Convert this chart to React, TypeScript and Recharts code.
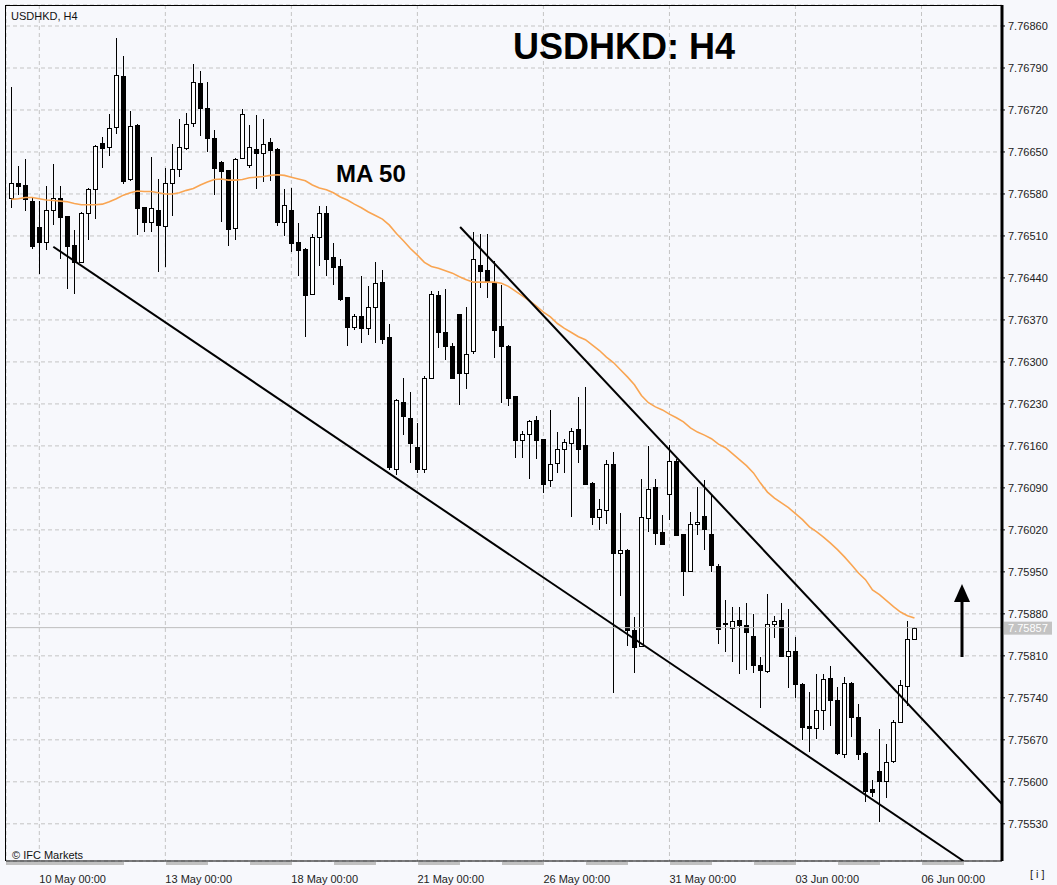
import React from 'react';
import {
    ComposedChart,
    Bar,
    Line,
    XAxis,
    YAxis,
    CartesianGrid,
    ReferenceLine,
} from 'recharts';

// USDHKD H4 candles, oldest first
const opens = [
    7.76573, 7.76598, 7.76595, 7.76568, 7.76525, 7.76500, 7.76554, 7.76574, 7.76543, 7.76495,
    7.76467, 7.76549, 7.76588, 7.76665, 7.76658, 7.76691, 7.76776, 7.76605, 7.76695, 7.76558,
    7.76534, 7.76554, 7.76527, 7.76598, 7.76621, 7.76657, 7.76698, 7.76765, 7.76723, 7.76674,
    7.76633, 7.76620, 7.76524, 7.76640, 7.76629, 7.76655, 7.76648, 7.76666, 7.76655, 7.76534,
    7.76553, 7.76500, 7.76488, 7.76413, 7.76509, 7.76548, 7.76475, 7.76460, 7.76408, 7.76359,
    7.76377, 7.76356, 7.76391, 7.76433, 7.76342, 7.76121, 7.76234, 7.76206, 7.76158, 7.76121,
    7.76274, 7.76411, 7.76350, 7.76327, 7.76380, 7.76282, 7.76319, 7.76462, 7.76454, 7.76431,
    7.76360, 7.76327, 7.76243, 7.76169, 7.76179, 7.76203, 7.76172, 7.76103, 7.76131, 7.76154,
    7.76164, 7.76188, 7.76161, 7.76098, 7.76042, 7.76053, 7.76129, 7.75982, 7.75987, 7.75853,
    7.75827, 7.76039, 7.76091, 7.76016, 7.76079, 7.76135, 7.76013, 7.75952, 7.76029, 7.76043,
    7.76013, 7.75960, 7.75865, 7.75857, 7.75870, 7.75862, 7.75843, 7.75795, 7.75784, 7.75863,
    7.75870, 7.75810, 7.75818, 7.75763, 7.75693, 7.75689, 7.75719, 7.75773, 7.75737, 7.75646,
    7.75765, 7.75708, 7.75648, 7.75588, 7.75618, 7.75602, 7.75634, 7.75699, 7.75759, 7.75838,
];
const highs = [
    7.76759, 7.76627, 7.76638, 7.76575, 7.76568, 7.76594, 7.76630, 7.76594, 7.76543, 7.76520,
    7.76550, 7.76590, 7.76662, 7.76675, 7.76713, 7.76840, 7.76810, 7.76718, 7.76696, 7.76558,
    7.76641, 7.76605, 7.76623, 7.76663, 7.76705, 7.76715, 7.76797, 7.76785, 7.76767, 7.76687,
    7.76635, 7.76620, 7.76640, 7.76721, 7.76695, 7.76712, 7.76705, 7.76673, 7.76657, 7.76588,
    7.76590, 7.76532, 7.76490, 7.76513, 7.76560, 7.76560, 7.76498, 7.76471, 7.76408, 7.76380,
    7.76443, 7.76427, 7.76467, 7.76453, 7.76364, 7.76238, 7.76273, 7.76250, 7.76198, 7.76276,
    7.76418, 7.76418, 7.76421, 7.76332, 7.76380, 7.76391, 7.76516, 7.76513, 7.76513, 7.76469,
    7.76428, 7.76329, 7.76244, 7.76185, 7.76204, 7.76210, 7.76172, 7.76220, 7.76183, 7.76171,
    7.76190, 7.76242, 7.76258, 7.76100, 7.76072, 7.76137, 7.76150, 7.76048, 7.75988, 7.75874,
    7.76105, 7.76160, 7.76104, 7.76045, 7.76162, 7.76138, 7.76013, 7.76050, 7.76091, 7.76103,
    7.76078, 7.75963, 7.75903, 7.75891, 7.75891, 7.75898, 7.75880, 7.75808, 7.75913, 7.75876,
    7.75898, 7.75888, 7.75842, 7.75764, 7.75749, 7.75780, 7.75780, 7.75793, 7.75758, 7.75774,
    7.75767, 7.75730, 7.75650, 7.75603, 7.75688, 7.75663, 7.75703, 7.75770, 7.75868, 7.75858,
];
const lows = [
    7.76556, 7.76578, 7.76552, 7.76488, 7.76447, 7.76487, 7.76528, 7.76471, 7.76422, 7.76414,
    7.76466, 7.76504, 7.76538, 7.76624, 7.76643, 7.76680, 7.76597, 7.76602, 7.76512, 7.76516,
    7.76517, 7.76450, 7.76459, 7.76544, 7.76609, 7.76653, 7.76692, 7.76677, 7.76650, 7.76578,
    7.76534, 7.76494, 7.76504, 7.76640, 7.76623, 7.76589, 7.76600, 7.76602, 7.76527, 7.76510,
    7.76483, 7.76443, 7.76341, 7.76413, 7.76460, 7.76443, 7.76428, 7.76401, 7.76326, 7.76354,
    7.76332, 7.76345, 7.76332, 7.76330, 7.76120, 7.76112, 7.76178, 7.76131, 7.76115, 7.76114,
    7.76271, 7.76324, 7.76303, 7.76273, 7.76229, 7.76255, 7.76314, 7.76424, 7.76407, 7.76307,
    7.76231, 7.76227, 7.76140, 7.76139, 7.76105, 7.76138, 7.76082, 7.76092, 7.76115, 7.76115,
    7.76041, 7.76131, 7.76095, 7.76028, 7.76019, 7.76029, 7.75748, 7.75910, 7.75827, 7.75782,
    7.75825, 7.76017, 7.75995, 7.75997, 7.76037, 7.76009, 7.75910, 7.75950, 7.76012, 7.75987,
    7.75949, 7.75830, 7.75816, 7.75799, 7.75780, 7.75787, 7.75782, 7.75723, 7.75782, 7.75840,
    7.75810, 7.75757, 7.75739, 7.75669, 7.75650, 7.75672, 7.75687, 7.75693, 7.75645, 7.75639,
    7.75675, 7.75637, 7.75566, 7.75575, 7.75533, 7.75573, 7.75632, 7.75699, 7.75727, 7.75836,
];
const closes = [
    7.76598, 7.76594, 7.76571, 7.76494, 7.76500, 7.76553, 7.76573, 7.76542, 7.76494, 7.76467,
    7.76548, 7.76588, 7.76660, 7.76657, 7.76690, 7.76778, 7.76602, 7.76693, 7.76557, 7.76534,
    7.76556, 7.76528, 7.76598, 7.76622, 7.76658, 7.76697, 7.76766, 7.76724, 7.76674, 7.76624,
    7.76619, 7.76522, 7.76638, 7.76713, 7.76658, 7.76648, 7.76664, 7.76653, 7.76534, 7.76562,
    7.76499, 7.76487, 7.76412, 7.76508, 7.76548, 7.76471, 7.76459, 7.76405, 7.76359, 7.76376,
    7.76357, 7.76391, 7.76431, 7.76339, 7.76124, 7.76236, 7.76210, 7.76164, 7.76121, 7.76274,
    7.76413, 7.76350, 7.76326, 7.76274, 7.76282, 7.76314, 7.76471, 7.76452, 7.76434, 7.76354,
    7.76327, 7.76240, 7.76169, 7.76179, 7.76202, 7.76170, 7.76097, 7.76129, 7.76154, 7.76167,
    7.76185, 7.76155, 7.76097, 7.76042, 7.76054, 7.76129, 7.75982, 7.75986, 7.75853, 7.75825,
    7.76041, 7.76088, 7.76015, 7.75997, 7.76134, 7.76012, 7.75952, 7.76029, 7.76033, 7.76022,
    7.75962, 7.75855, 7.75863, 7.75868, 7.75861, 7.75849, 7.75794, 7.75787, 7.75863, 7.75868,
    7.75810, 7.75818, 7.75763, 7.75692, 7.75689, 7.75720, 7.75772, 7.75737, 7.75648, 7.75765,
    7.75708, 7.75646, 7.75585, 7.75583, 7.75602, 7.75633, 7.75700, 7.75761, 7.75838, 7.75857,
];
// MA 50 as drawn on the chart
const ma50 = [
    7.76571, 7.76572, 7.76574, 7.76574, 7.76572, 7.76570, 7.76569, 7.76568, 7.76567, 7.76564,
    7.76562, 7.76562, 7.76562, 7.76563, 7.76567, 7.76572, 7.76578, 7.76582, 7.76585, 7.76584,
    7.76584, 7.76582, 7.76580, 7.76580, 7.76582, 7.76586, 7.76589, 7.76595, 7.76600, 7.76604,
    7.76605, 7.76603, 7.76603, 7.76604, 7.76607, 7.76608, 7.76609, 7.76611, 7.76612, 7.76611,
    7.76608, 7.76605, 7.76602, 7.76595, 7.76590, 7.76587, 7.76582, 7.76575, 7.76570, 7.76563,
    7.76557, 7.76550, 7.76544, 7.76538, 7.76528, 7.76514, 7.76502, 7.76489, 7.76478, 7.76466,
    7.76459, 7.76456, 7.76452, 7.76448, 7.76442, 7.76437, 7.76433, 7.76433, 7.76433, 7.76433,
    7.76431, 7.76426, 7.76418, 7.76410, 7.76402, 7.76393, 7.76383, 7.76375, 7.76364, 7.76356,
    7.76349, 7.76342, 7.76337, 7.76328, 7.76319, 7.76308, 7.76299, 7.76287, 7.76275, 7.76262,
    7.76244, 7.76232, 7.76225, 7.76220, 7.76213, 7.76207, 7.76200, 7.76190, 7.76183, 7.76178,
    7.76172, 7.76163, 7.76157, 7.76147, 7.76137, 7.76127, 7.76115, 7.76098, 7.76083, 7.76073,
    7.76065, 7.76057, 7.76047, 7.76037, 7.76025, 7.76017, 7.76008, 7.75998, 7.75987, 7.75975,
    7.75962, 7.75948, 7.75937, 7.75920, 7.75912, 7.75902, 7.75892, 7.75883, 7.75877, 7.75873,
];

const xTickIdx = [4, 22, 40, 58, 76, 94, 112, 130];
const xLabels = ['10 May 00:00', '13 May 00:00', '18 May 00:00', '21 May 00:00', '26 May 00:00', '31 May 00:00', '03 Jun 00:00', '06 Jun 00:00'];
const yTicks = [
    7.7553, 7.756, 7.7567, 7.7574, 7.7581, 7.7588, 7.7595, 7.7602, 7.7609, 7.7616,
    7.7623, 7.763, 7.7637, 7.7644, 7.7651, 7.7658, 7.7665, 7.7672, 7.7679, 7.7686,
];

// channel lines (bar index, price)
const upperLine = [{ x: 64.1, y: 7.76525 }, { x: 141.5, y: 7.75563 }];
const lowerLine = [{ x: 6.0, y: 7.76492 }, { x: 136.0, y: 7.75468 }];

const data = opens.map((open, i) => ({
    i,
    open,
    high: highs[i],
    low: lows[i],
    close: closes[i],
    ma: ma50[i],
}));

const lastPrice = closes[closes.length - 1];
const FONT = '"Liberation Sans", Arial, sans-serif';
const BG = '#f7f8fc';

const Candle = (props: any) => {
    const { x, y, width, height, payload } = props;
    if (x == null || !payload) return null;
    const top = Math.min(y, y + height);
    const h = Math.abs(height);
    const range = payload.high - payload.low;
    const k = range > 0 ? h / range : 0;
    const cx = Math.round(x + width / 2) + 0.5;
    const bTop = top + (payload.high - Math.max(payload.open, payload.close)) * k;
    const bBot = top + (payload.high - Math.min(payload.open, payload.close)) * k;
    const yt = Math.round(bTop) + 0.5;
    const yb = Math.max(Math.round(bBot) + 0.5, yt + 1);
    const bull = payload.close >= payload.open;
    return (
        <g>
            <line x1={cx} x2={cx} y1={Math.round(top)} y2={Math.round(top + h)} stroke="#000" strokeWidth={1} />
            <rect x={cx - 2} y={yt} width={4} height={yb - yt} fill={bull ? '#ffffff' : '#000000'} stroke="#000" strokeWidth={1} />
        </g>
    );
};

const XTick = (props: any) => {
    const { x, y, payload } = props;
    const idx = xTickIdx.indexOf(payload.value);
    return (
        <text x={x} y={y + 14} fill="#222" fontSize={11} fontFamily={FONT} textAnchor="start">
            {idx >= 0 ? xLabels[idx] : ''}
        </text>
    );
};

const PriceTag = (props: any) => {
    const { viewBox } = props;
    if (!viewBox) return null;
    const bx = viewBox.x + viewBox.width + 2;
    return (
        <g>
            <rect x={bx} y={viewBox.y - 6} width={48} height={13} fill="#c3c3c3" />
            <text x={bx + 4} y={viewBox.y + 4.5} fill="#ffffff" fontSize={11} fontFamily={FONT}>
                {lastPrice.toFixed(5)}
            </text>
        </g>
    );
};

// gray/white day strip under the time axis
const stripBlocks = [[6, 124], [166, 208], [250, 292], [334, 376], [418, 460], [502, 544], [586, 628], [670, 712], [754, 796], [838, 880], [922, 964]];

export default function App() {
    return (
        <div style={{ position: 'absolute', left: 0, top: 0, width: 1057, height: 885, background: BG, fontFamily: FONT }}>
            <ComposedChart width={1057} height={885} data={data} margin={{ top: 5, right: 0, left: 6, bottom: 0 }}>
                <CartesianGrid stroke="#c4c4c4" strokeDasharray="4 3" />
                <XAxis
                    dataKey="i"
                    type="number"
                    domain={[-0.76, 141.5]}
                    allowDataOverflow
                    ticks={xTickIdx}
                    interval={0}
                    height={24}
                    tickLine={false}
                    axisLine={{ stroke: '#000' }}
                    tick={<XTick />}
                />
                <YAxis
                    orientation="right"
                    type="number"
                    domain={[7.75468, 7.76895]}
                    allowDataOverflow
                    ticks={yTicks}
                    interval={0}
                    width={55}
                    tickSize={3}
                    tickMargin={3}
                    tickLine={{ stroke: '#000' }}
                    axisLine={{ stroke: '#000', strokeWidth: 3 }}
                    tick={{ fill: '#222', fontSize: 11, fontFamily: FONT }}
                    tickFormatter={(v: number) => v.toFixed(5)}
                />
                <ReferenceLine y={lastPrice} stroke="#bdbdbd" strokeWidth={1} label={<PriceTag />} />
                <Bar dataKey={(d: any) => [d.low, d.high]} barSize={5} shape={<Candle />} isAnimationActive={false} />
                <Line type="linear" dataKey="ma" stroke="#f9a552" strokeWidth={1.6} dot={false} activeDot={false} isAnimationActive={false} />
                <ReferenceLine segment={upperLine} stroke="#000" strokeWidth={2} ifOverflow="hidden" />
                <ReferenceLine segment={lowerLine} stroke="#000" strokeWidth={2} ifOverflow="hidden" />
            </ComposedChart>
            <svg width={1057} height={885} style={{ position: 'absolute', left: 0, top: 0, pointerEvents: 'none' }}>
                <line x1={5.5} y1={5} x2={5.5} y2={861} stroke="#000" />
                <line x1={5} y1={5.5} x2={1002} y2={5.5} stroke="#000" />
                {stripBlocks.map(([a, b]) => (
                    <rect key={a} x={a} y={862} width={b - a} height={3} fill="#c0c0c0" />
                ))}
                <text x={11} y={20} fontSize={11} fill="#111" fontFamily={FONT}>USDHKD, H4</text>
                <rect x={10} y={849} width={72} height={11} fill={BG} />
                <text x={12} y={859} fontSize={11} fill="#111" fontFamily={FONT}>© IFC Markets</text>
                <text x={513} y={59} fontSize={36} fontWeight="bold" fill="#000" fontFamily={FONT}>USDHKD: H4</text>
                <text x={336} y={182} fontSize={24} fontWeight="bold" fill="#000" fontFamily={FONT}>MA 50</text>
                <line x1={962} y1={600} x2={962} y2={657} stroke="#000" strokeWidth={3} />
                <polygon points="954,602 970,602 962,584" fill="#000" />
                <text x={1030} y={878} fontSize={11} fill="#222" fontFamily={FONT}>[ i ]</text>
            </svg>
        </div>
    );
}
